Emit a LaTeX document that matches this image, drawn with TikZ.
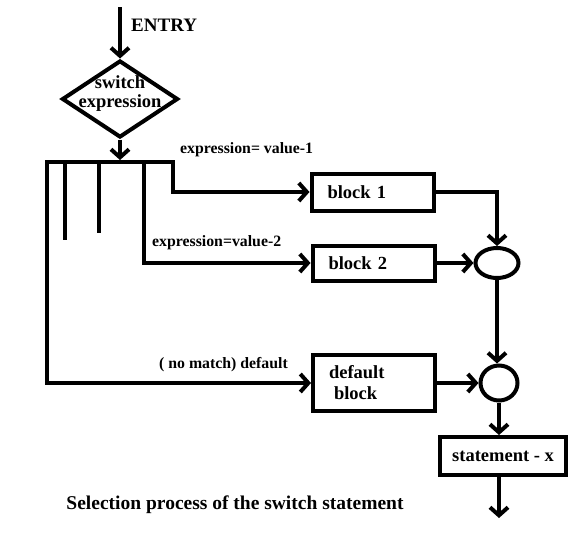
\documentclass[tikz,border=0pt]{standalone}
\usepackage{fontspec}
\setmainfont{Liberation Serif}
\usetikzlibrary{arrows.meta,shapes.geometric}
\begin{document}
\begin{tikzpicture}[x=1pt,y=-1pt,
  conn/.style={line width=4pt},
  arr/.style={conn,-{Straight Barb[length=8pt,width=18pt]}},
  bigtext/.style={font=\fontsize{19}{17}\selectfont\bfseries},
  lbl/.style={font=\fontsize{15.8}{15}\selectfont\bfseries,inner sep=0pt,anchor=west},
  blockbox/.style={draw,line width=4pt,inner sep=0pt,text width=90pt,align=left,
    minimum width=122pt,font=\fontsize{18.5}{21}\selectfont\bfseries},
  joinnode/.style={draw,ellipse,line width=4pt,inner sep=0pt}
]
\useasboundingbox[fill=white] (0,0) rectangle (575,533);

% entry and decision
\coordinate (entry) at (120,7);
\node[draw,diamond,line width=4pt,minimum width=116pt,minimum height=77pt,inner sep=0pt] (sw) at (120,99) {};
\node[font=\fontsize{18.5}{19}\selectfont\bfseries,align=center,inner sep=0pt] (swt) at (120,94) {switch\\expression};
\node[bigtext,anchor=west,inner sep=0pt] (ent) at (131,25) {ENTRY};

% bus
\coordinate (busL) at (47,162);
\coordinate (busR) at (173,162);
\coordinate (busJ) at (120,160);
\coordinate (s1) at (65,162);
\coordinate (s1e) at (65,240);
\coordinate (s2) at (99,162);
\coordinate (s2e) at (99,233);
\coordinate (s3) at (144,162);

% blocks
\node[blockbox,minimum height=37pt] (b1) at (372.5,192) {block 1};
\node[blockbox,minimum height=35pt] (b2) at (373.5,263) {block 2};
\node[blockbox,minimum height=56pt] (db) at (374,383) {default\\\hspace*{5pt}block};
\node[joinnode,minimum width=43pt,minimum height=30pt] (c1) at (497,263) {};
\node[joinnode,minimum width=37pt,minimum height=35pt] (c2) at (499,383) {};
\node[draw,line width=4pt,inner sep=0pt,minimum width=126pt,minimum height=38pt,
  font=\fontsize{18.5}{21}\selectfont\bfseries] (st) at (503,456) {statement - x};
\coordinate (exit) at (499,518);

% labels
\node[lbl] (l1) at (180,150) {expression= value-1};
\node[lbl] (l2) at (152,243) {expression=value-2};
\node[lbl] (l3) at (159,365) {( no match) default};

% caption
\node[font=\fontsize{19.5}{20}\selectfont\bfseries,inner sep=0pt] (cap) at (235,505) {Selection process of the switch statement};

% connectors
\draw[arr] (entry) -- (sw.north);
\draw[arr] (sw.south) -- (busJ);
\draw[arr] (busL) -- (busR) |- (b1.west);
\draw[arr] ([yshift=2pt]busL) |- (db.west);
\draw[conn] (s1) -- (s1e);
\draw[conn] (s2) -- (s2e);
\draw[arr] (s3) |- (b2.west);
\draw[arr] (b1.east) -| (c1.north);
\draw[arr] (b2.east) -- (c1.west);
\draw[arr] (c1.south) -- (c1.south |- c2.north);
\draw[arr] (db.east) -- (c2.west);
\draw[arr] (c2.south) -- (c2.south |- st.north);
\draw[arr] (c2.south |- st.south) -- (exit);
\end{tikzpicture}
\end{document}
